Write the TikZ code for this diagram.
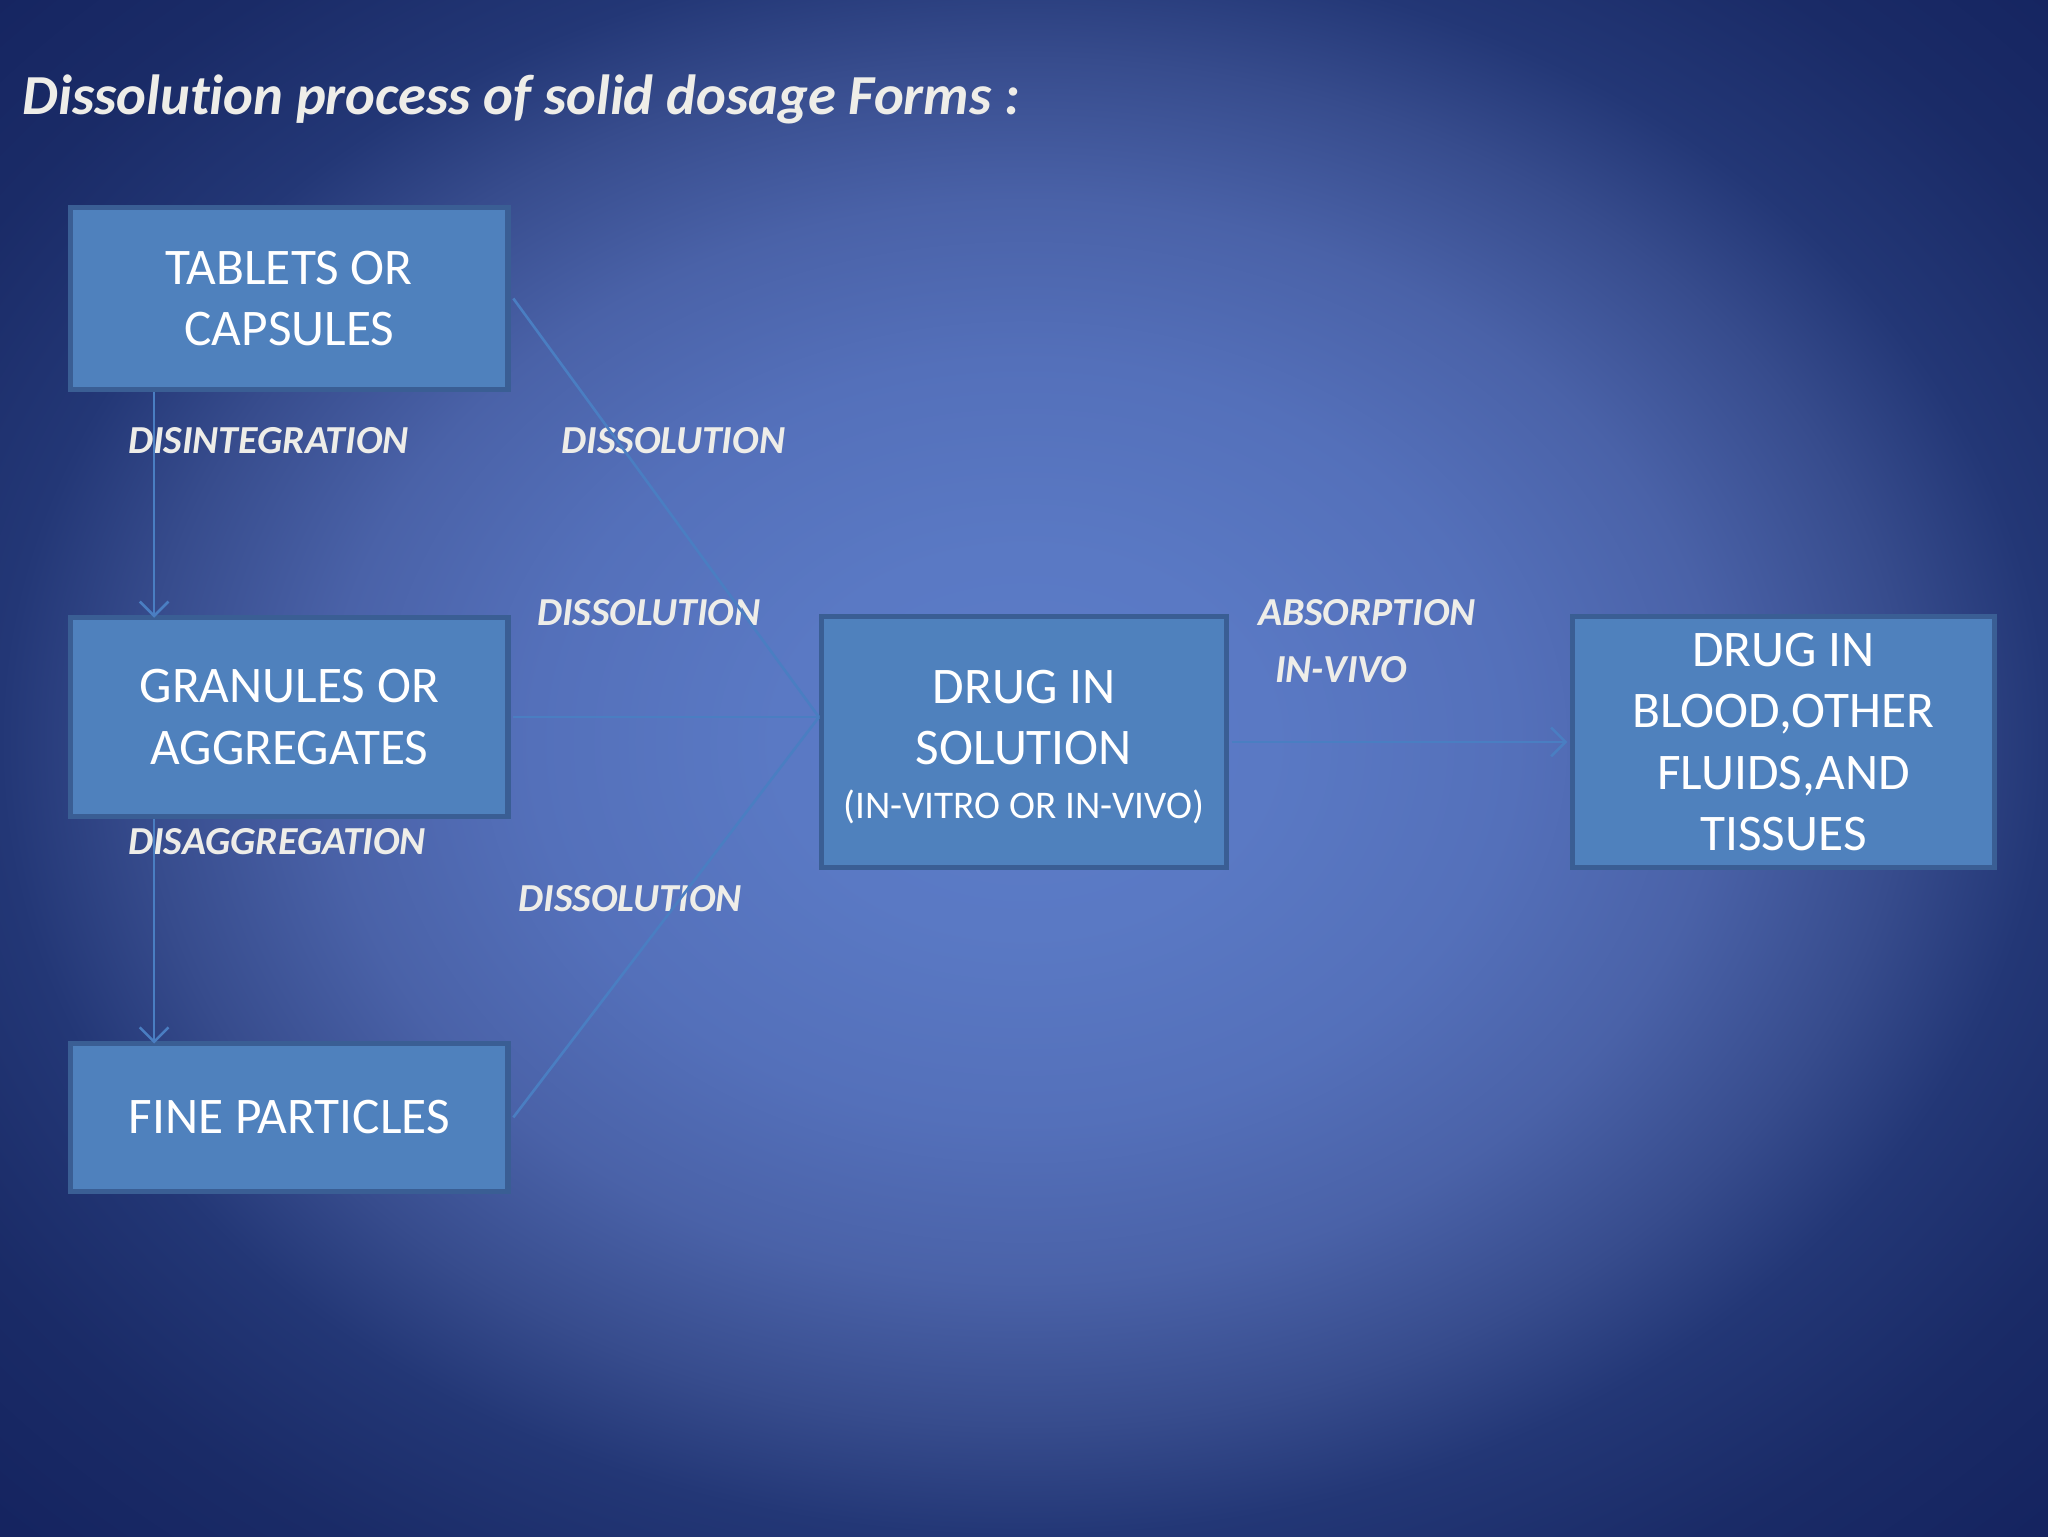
\documentclass[tikz,border=0pt]{standalone}
\usepackage{fontspec}
\setmainfont{Carlito}[Ligatures=NoCommon]
\usetikzlibrary{arrows.meta}
\definecolor{boxfill}{HTML}{4F81BD}
\definecolor{boxedge}{HTML}{3A5E94}
\definecolor{linec}{HTML}{4A7EC2}
\definecolor{labc}{HTML}{EEEDE8}
\definecolor{bg0}{HTML}{5C7CC8}
\definecolor{bg1}{HTML}{5A79C4}
\definecolor{bg2}{HTML}{5470BA}
\definecolor{bg3}{HTML}{4A62A8}
\definecolor{bg4}{HTML}{374C8D}
\definecolor{bg5}{HTML}{233776}
\definecolor{bg6}{HTML}{1A2B67}
\definecolor{bg7}{HTML}{152460}
\pgfdeclareradialshading{slidebg}{\pgfpoint{0bp}{0bp}}{color(0bp)=(bg0); color(6bp)=(bg1); color(12bp)=(bg2); color(17bp)=(bg3); color(21.5bp)=(bg4); color(25bp)=(bg5); color(30bp)=(bg6); color(35bp)=(bg7); color(50bp)=(bg7)}
\tikzset{
  boxstyle/.style={draw=boxedge, line width=4pt, fill=boxfill, text=white,
    font=\fontsize{39.3}{47}\selectfont, align=center, inner sep=0pt},
  lab/.style={font=\fontsize{30.4}{32}\selectfont\bfseries\itshape, text=labc, inner sep=0pt, anchor=west},
  conn/.style={draw=linec, line width=2pt},
  arr/.style={conn, -{Straight Barb[length=11pt,width=22pt,line width=2pt]}}
}
\begin{document}
\begin{tikzpicture}[x=1pt,y=-1pt]
\useasboundingbox (0,0) rectangle (1568,1176);
\begin{scope}
\clip (0,0) rectangle (1568,1176);
\shade[shading=slidebg] (0,-40) rectangle (1568,1176);
\end{scope}

% title
\node[font=\fontsize{43.3}{46}\selectfont\bfseries\itshape, text=labc, inner sep=0pt, anchor=base west] (title) at (17,88) {Dissolution process of solid dosage Forms :};

% boxes
\node[boxstyle, minimum width=335pt, minimum height=139pt] (b1) at (221.5,228.5) {TABLETS OR\\CAPSULES};
\node[boxstyle, minimum width=335pt, minimum height=152pt] (b2) at (221.5,549) {GRANULES OR\\AGGREGATES};
\node[boxstyle, minimum width=335pt, minimum height=113pt] (b3) at (221.5,855.5) {FINE PARTICLES};
\node[boxstyle, minimum width=310pt, minimum height=192pt] (b4) at (784,568) {\rule{0pt}{33.5pt}DRUG IN\\SOLUTION\\[-6pt]{\fontsize{30}{36}\selectfont (IN-VITRO OR IN-VIVO)}};
\node[boxstyle, minimum width=323pt, minimum height=192pt] (b5) at (1365.5,568) {DRUG IN\\BLOOD,OTHER\\FLUIDS,AND\\TISSUES};

% labels
\node[lab] (l1) at (98,337) {DISINTEGRATION};
\node[lab] (l2) at (430,337) {DISSOLUTION};
\node[lab] (l3) at (411,469) {DISSOLUTION};
\node[lab] (l4) at (963,469) {ABSORPTION};
\node[lab] (l5) at (976,513) {IN-VIVO};
\node[lab] (l6) at (98,644) {DISAGGREGATION};
\node[lab] (l7) at (397,688) {DISSOLUTION};

% connectors
\coordinate (vx) at (118,0);
\coordinate (hub) at (b4.west |- b2.east);
\draw[arr] (b1.south -| vx) -- ([yshift=-2pt]b2.north -| vx);
\draw[arr] (b2.south -| vx) -- ([yshift=-2pt]b3.north -| vx);
\draw[conn] ([xshift=2pt]b1.east) -- (hub);
\draw[conn] ([xshift=2pt]b2.east) -- (hub);
\draw[conn] ([xshift=2pt]b3.east) -- (hub);
\draw[arr] ([xshift=2pt]b4.east) -- ([xshift=-2pt]b5.west);
\end{tikzpicture}
\end{document}
